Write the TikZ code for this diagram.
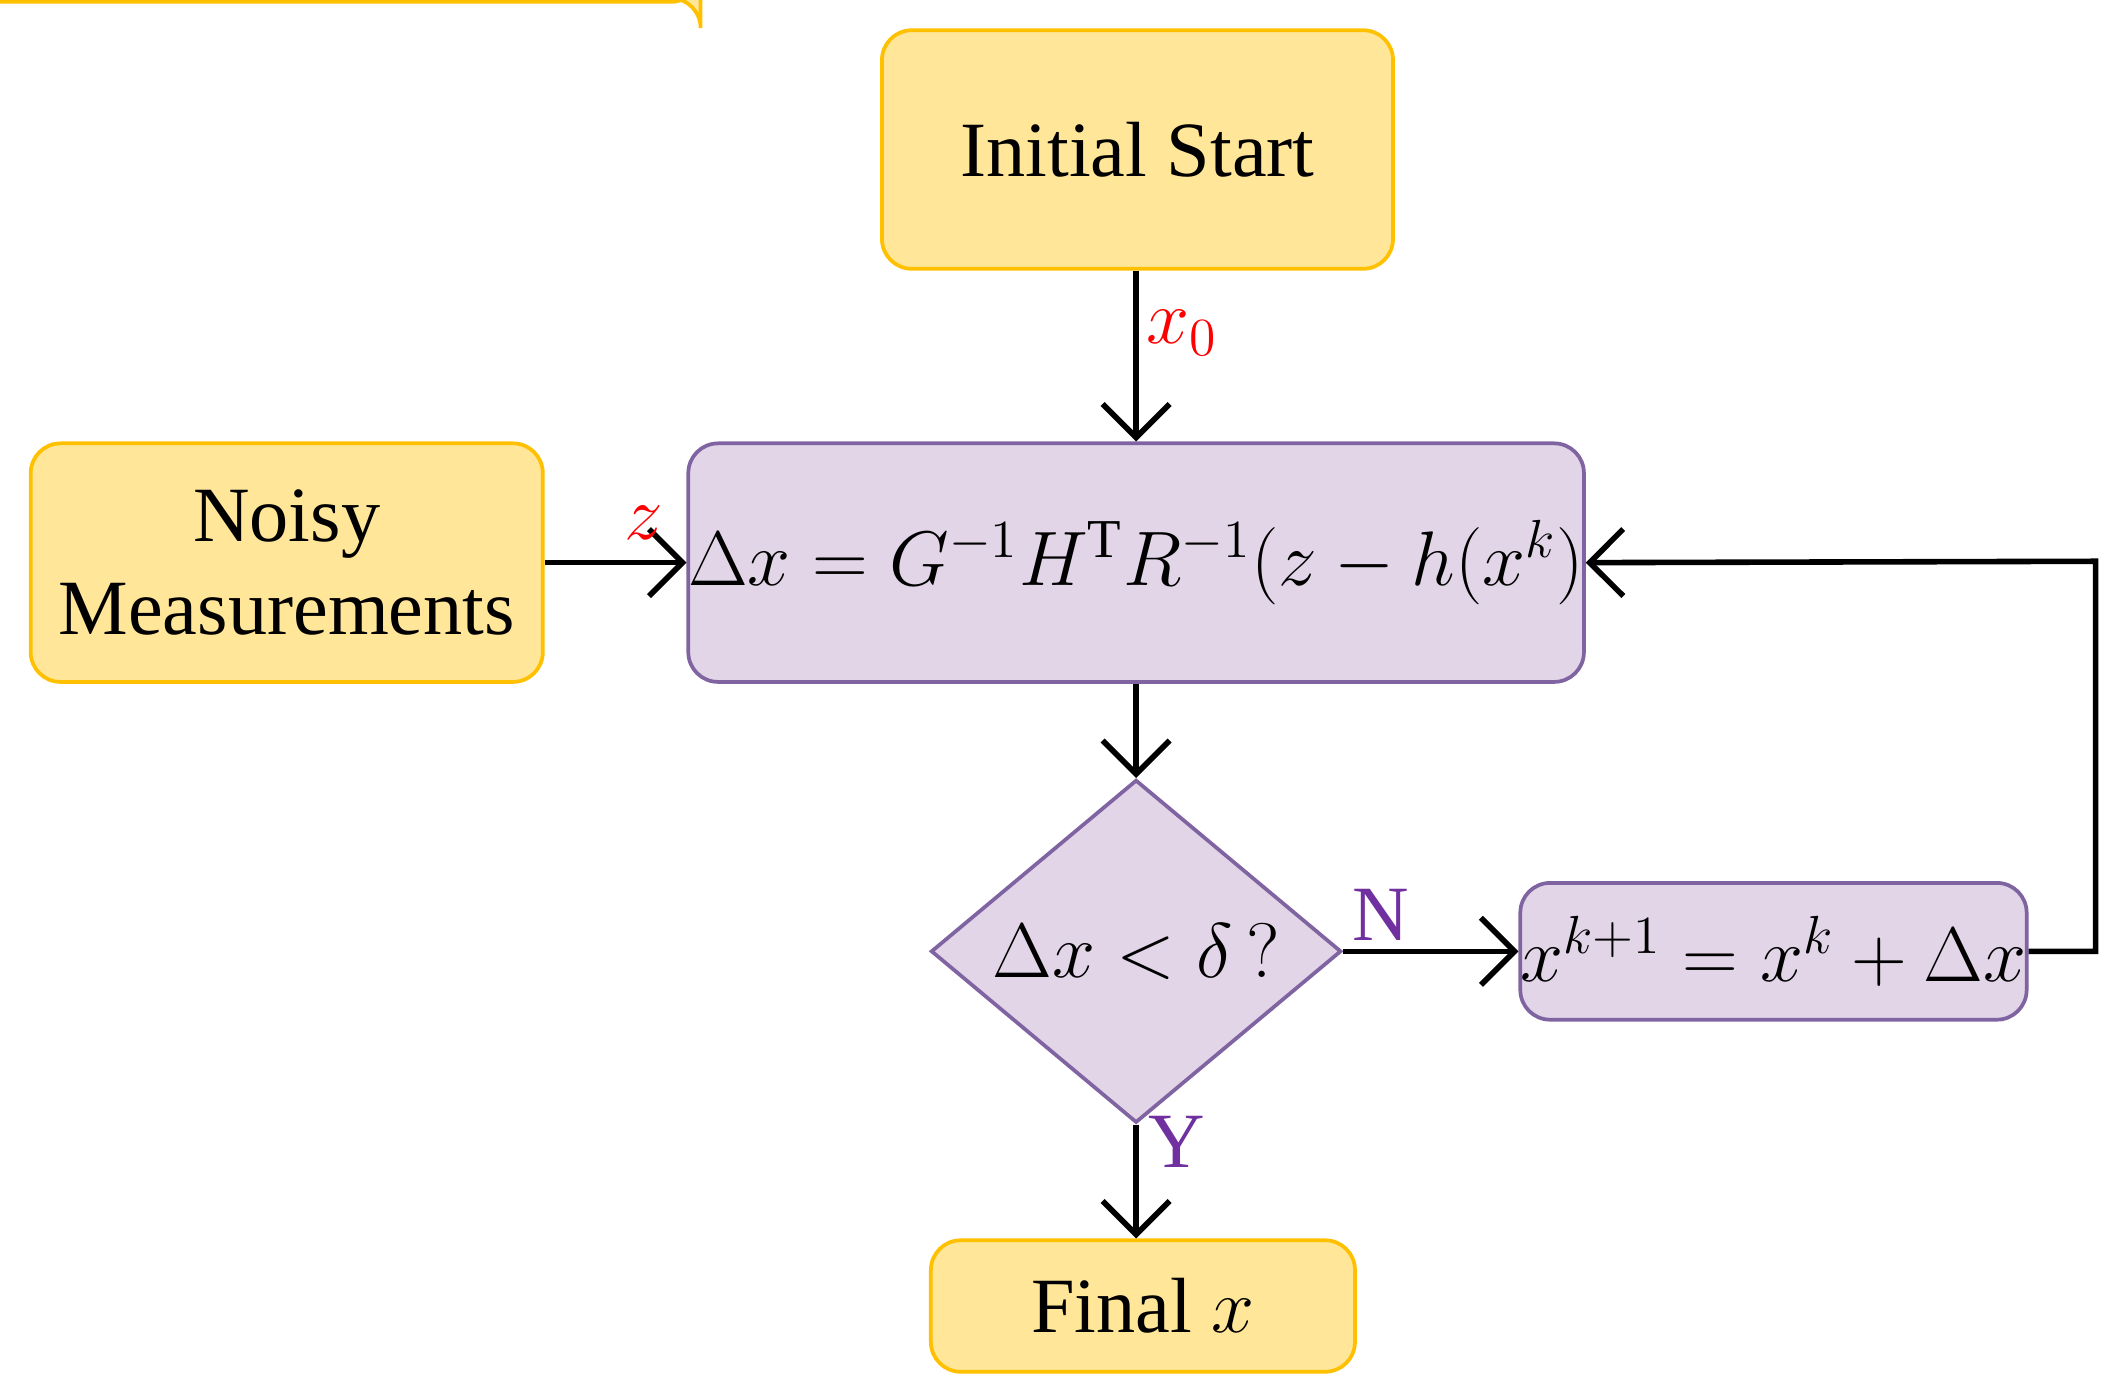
\documentclass[tikz,border=0pt]{standalone}
\usepackage{fontspec}
\setmainfont{Liberation Serif}
\usetikzlibrary{shapes.geometric,arrows.meta}
\definecolor{yfill}{HTML}{FFE699}
\definecolor{ydraw}{HTML}{FFC000}
\definecolor{pfill}{HTML}{E1D5E7}
\definecolor{pdraw}{HTML}{8064A2}
\definecolor{lab}{HTML}{7030A0}
\begin{document}
\begin{tikzpicture}[x=0.01282cm,y=-0.01282cm,
  ybox/.style={draw=ydraw,fill=yfill,line width=1pt,rounded corners=8pt,inner sep=0},
  pbox/.style={draw=pdraw,fill=pfill,line width=1pt,rounded corners=8pt,inner sep=0},
  arr/.style={line width=1.5pt,-{Straight Barb[length=9pt,width=18pt,line width=1.5pt]}},
  font=\fontsize{21}{25}\selectfont]
\useasboundingbox (0,0) rectangle (1560,1025);
\node[ybox,minimum width=376\pgflinewidth] at (0,0) {};
\node[ybox,minimum width=4.82cm,minimum height=2.25cm] (init) at (837,110) {Initial Start};
\node[ybox,minimum width=4.83cm,minimum height=2.25cm,align=center] (noisy) at (211,414) {Noisy\\Measurements};
\node[pbox,minimum width=6.73cm,minimum height=2.25cm] (main) at (836,414) {$\Delta x=G^{-1}H^{\mathrm{T}}R^{-1}(z-h(x^k)$};
\node[diamond,draw=pdraw,fill=pfill,line width=1pt,minimum width=3.87cm,minimum height=2.88cm,inner sep=0] (dec) at (836,700) {$\Delta x<\delta\,?$};
\node[pbox,minimum width=4.28cm,minimum height=1.29cm] (upd) at (1305,700) {$x^{k+1}=x^{k}+\Delta x$};
\node[ybox,minimum width=4cm,minimum height=1.24cm] (fin) at (841,961) {Final $x$};
\coordinate (c1) at (1542,700);
\coordinate (c2) at (1542,413);
\draw[arr] (init.south -| main.north) -- (main.north);
\draw[arr] (noisy.east) -- (main.west);
\draw[arr] (main.south) -- (dec.north);
\draw[arr] (dec.east) -- (upd.west);
\draw[arr] (dec.south) -- (dec.south |- fin.north);
\draw[arr] (upd.east) -- (c1) -- (c2) -- (main.east);
\node[text=red] at (870,245) {$x_0$};
\node[text=red] at (474,385) {$z$};
\node[text=lab] at (1016,673) {N};
\node[text=lab] at (866,840) {Y};
\end{tikzpicture}
\end{document}
